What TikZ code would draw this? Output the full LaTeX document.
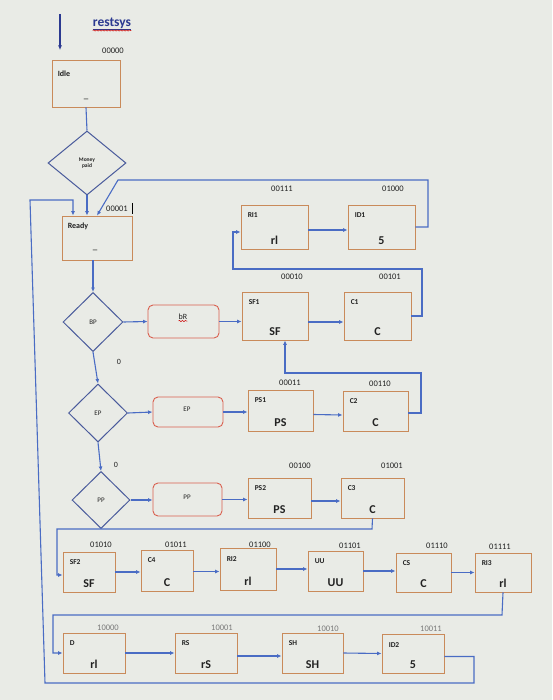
\documentclass[tikz,border=0pt]{standalone}
\usepackage{fontspec}
\setmainfont{Carlito}
\usetikzlibrary{shapes.geometric,arrows.meta,decorations.pathmorphing}
\definecolor{bgc}{HTML}{E9EBE6}
\definecolor{boxc}{HTML}{C98A5A}
\definecolor{redc}{HTML}{D9604F}
\definecolor{linec}{HTML}{4A6CC4}
\definecolor{dmc}{HTML}{4A5B9C}
\definecolor{txtc}{HTML}{222222}
\definecolor{rsc}{HTML}{2B3990}
\newcommand\stbox[7]{%
 \node[box,minimum width=#4pt,minimum height=#5pt] (#1) at (#2,#3) {};
 \node[ttl,anchor=west] (#1t) at ([xshift=7pt,yshift=-11pt]#1.north west) {#6};
 \node[bigt,anchor=base] (#1b) at ([yshift=5pt]#1.south) {#7};}
\begin{document}
\begin{tikzpicture}[x=1pt,y=-1pt,
 box/.style={draw=boxc,line width=0.9pt,inner sep=0pt},
 rbox/.style={draw=redc,line width=0.9pt,rounded corners=5pt,inner sep=0pt,font=\fontsize{7}{8}\selectfont,text=txtc},
 dia/.style={draw=dmc,line width=1pt,diamond,inner sep=0pt,font=\fontsize{7}{8}\selectfont,text=txtc,align=center},
 ttl/.style={font=\bfseries\fontsize{7.5}{9}\selectfont,text=txtc,inner sep=0pt},
 bigt/.style={font=\bfseries\fontsize{12}{14}\selectfont,text=txtc,inner sep=0pt},
 cd/.style={font=\fontsize{8.5}{10}\selectfont,text=txtc,inner sep=0pt},
 ln/.style={draw=linec,line width=1.1pt},
 arr/.style={ln,-{Latex[length=4.5pt,width=4pt]}},
]
\fill[bgc] (0,0) rectangle (552,700);
\useasboundingbox (0,0) rectangle (552,700);

% reset
\node[font=\bfseries\fontsize{13.5}{16}\selectfont,text=rsc,inner sep=0pt] (rst) at (112,23) {restsys};
\draw[rsc,line width=0.7pt] ([yshift=-0.5pt]rst.south west) -- ([yshift=-0.5pt]rst.south east);
\draw[red!80!black,line width=0.5pt,decorate,decoration={snake,amplitude=0.6pt,segment length=3pt}] ([yshift=-2pt]rst.south west) -- ([yshift=-2pt]rst.south east);
\coordinate (rs0) at (60,14);
\coordinate (rs1) at (60,50);
\draw[arr,draw=rsc] (rs0) -- (rs1);

% Idle
\node[box,minimum width=68pt,minimum height=47pt] (Idle) at (86,83.5) {};
\node[ttl,anchor=west,font=\bfseries\fontsize{8}{9}\selectfont] (Idlet) at ([xshift=6pt,yshift=-14pt]Idle.north west) {Idle};
\node[anchor=base,inner sep=0pt,font=\fontsize{9}{10}\selectfont] (Idled) at (86,99) {\_};
\node[cd] (c0) at (113,51) {00000};

% Money paid
\node[dia,minimum width=78pt,minimum height=64pt,font=\bfseries\fontsize{5.5}{6.5}\selectfont] (MP) at (87,163) {Money\\paid};

% Ready
\node[box,minimum width=70pt,minimum height=44pt] (Ready) at (97,238) {};
\node[ttl,anchor=west,font=\bfseries\fontsize{8}{9}\selectfont] (Readyt) at ([xshift=6pt,yshift=-11pt]Ready.north west) {Ready};
\node[anchor=base,inner sep=0pt,font=\fontsize{9}{10}\selectfont] (Readyd) at (95,250) {\_};
\node[cd] (c1) at (117,209) {00001};
\coordinate (cur0) at (132,203);
\coordinate (cur1) at (132,214);
\draw[black,line width=0.5pt] (cur0) -- (cur1);

% decision diamonds
\node[dia,minimum width=60pt,minimum height=59pt] (BP) at (93,322) {BP};
\node[dia,minimum width=59pt,minimum height=58pt] (EPd) at (98,413) {EP};
\node[dia,minimum width=58pt,minimum height=57pt] (PPd) at (101,500) {PP};

% rounded boxes
\node[rbox,minimum width=71pt,minimum height=33pt] (bR) at (183.5,321.5) {};
\node[inner sep=0pt,font=\fontsize{8}{9}\selectfont,text=txtc] (bRt) at (183,317) {bR};
\draw[red!80!black,line width=0.5pt,decorate,decoration={snake,amplitude=0.6pt,segment length=3pt}] ([yshift=-1pt]bRt.south west) -- ([yshift=-1pt]bRt.south east);
\node[rbox,minimum width=70pt,minimum height=30pt] (EPb) at (188,412) {};
\node[inner sep=0pt,font=\fontsize{7}{8}\selectfont,text=txtc] (EPbt) at (187,409) {EP};
\node[rbox,minimum width=69pt,minimum height=33pt] (PPb) at (187.5,499.5) {};
\node[inner sep=0pt,font=\fontsize{7}{8}\selectfont,text=txtc] (PPbt) at (187,497) {PP};

% state boxes
\stbox{RI1}{274.5}{227}{67}{44}{RI1}{rl}
\stbox{ID1}{381.5}{227}{67}{44}{ID1}{5}
\stbox{SF1}{275}{316}{66}{48}{SF1}{SF}
\stbox{C1}{377.5}{316}{67}{48}{C1}{C}
\stbox{PS1}{280.5}{410.5}{65}{41}{PS1}{PS}
\stbox{C2}{375.5}{411}{65}{40}{C2}{C}
\stbox{PS2}{279.5}{498}{63}{40}{PS2}{PS}
\stbox{C3}{372.5}{498}{63}{40}{C3}{C}
\stbox{SF2}{89}{572}{52}{40}{SF2}{SF}
\stbox{C4}{167}{570.5}{52}{41}{C4}{C}
\stbox{RI2}{248}{569}{56}{42}{RI2}{rl}
\stbox{UU}{335.5}{571}{55}{40}{UU}{UU}
\stbox{CS}{423.5}{572.5}{55}{39}{CS}{C}
\stbox{RI3}{503}{572.5}{56}{39}{RI3}{rl}
\stbox{D}{94}{653}{62}{40}{D}{rl}
\stbox{RS}{206}{653}{62}{40}{RS}{rS}
\stbox{SH}{312.5}{653}{61}{40}{SH}{SH}
\stbox{ID2}{413}{653.5}{62}{39}{ID2}{5}

% codes
\node[cd] (cRI1) at (282,189) {00111};
\node[cd] (cID1) at (393,189) {01000};
\node[cd] (cSF1) at (292,277) {00010};
\node[cd] (cC1) at (390,277) {00101};
\node[cd] (cPS1) at (290,383) {00011};
\node[cd] (cC2) at (380,384) {00110};
\node[cd] (cPS2) at (300,466) {00100};
\node[cd] (cC3) at (392,466) {01001};
\node[cd] (cSF2) at (101,545) {01010};
\node[cd] (cC4) at (176,545) {01011};
\node[cd] (cRI2) at (260,545) {01100};
\node[cd] (cUU) at (350,546) {01101};
\node[cd] (cCS) at (437,546) {01110};
\node[cd] (cRI3) at (500,547) {01111};
\node[cd,text=txtc!60] (cD) at (108,628) {10000};
\node[cd,text=txtc!60] (cRS) at (222,628) {10001};
\node[cd,text=txtc!60] (cSH) at (328,629) {10010};
\node[cd,text=txtc!60] (cID2) at (431,629) {10011};

% zero labels
\node[cd,font=\fontsize{8}{9}\selectfont] (z1) at (119,362) {0};
\node[cd,font=\fontsize{8}{9}\selectfont] (z2) at (116,465) {0};

% connectors
\draw[ln] (Idle.south) -- (MP.north);
\draw[arr] (MP.south) -- (MP.south |- Ready.north);
\coordinate (k1) at (428,180);
\coordinate (k2) at (118,180);
\draw[arr] (ID1.east) -| (k1) -- (k2) -- (Ready.north);
\coordinate (o1) at (474,683);
\coordinate (o2) at (45,683);
\coordinate (o3) at (30,200);
\coordinate (o4) at (73,200);
\draw[arr] ([yshift=-3pt]ID2.east) -| (o1) -- (o2) -- (o3) -- (o4) -- (o4 |- Ready.north);
\draw[arr] (BP.north |- Ready.south) -- (BP.north);
\draw[arr] (BP.east) -- (bR.west);
\draw[arr] (bR.east) -- (bR.east -| SF1.west);
\draw[arr] ([yshift=-6pt]SF1.east) -- ([yshift=-6pt]C1.west);
\coordinate (l1) at (422,269);
\coordinate (l2) at (233,269);
\coordinate (l3) at (233,232);
\draw[arr] (C1.east) -| (l1) -- (l2) -- (l3) -- (l3 -| RI1.west);
\draw[arr] ([yshift=-3pt]RI1.east) -- ([yshift=-3pt]ID1.west);
\draw[arr] (BP.south) -- (EPd.north);
\draw[arr] (EPd.east) -- (EPb.west);
\draw[arr] (EPb.east) -- (EPb.east -| PS1.west);
\draw[arr] ([yshift=-4pt]PS1.east) -- ([yshift=-4pt]C2.west);
\coordinate (m1) at (421,373);
\coordinate (m2) at (285,373);
\draw[arr] ([yshift=-2pt]C2.east) -| (m1) -- (m2) -- (m2 |- SF1.south);
\draw[arr] (EPd.south) -- (PPd.north);
\draw[arr] (PPd.east) -- (PPd.east -| PPb.west);
\draw[arr] (PPb.east) -- (PPb.east -| PS2.west);
\draw[arr] ([yshift=-3pt]PS2.east) -- ([yshift=-3pt]C3.west);
\coordinate (n1) at (372,529);
\coordinate (n2) at (57,529);
\coordinate (n3) at (57,575);
\draw[arr] (C3.south) -- (n1) -- (n2) -- (n3) -- (n3 -| SF2.west);
\draw[arr] (SF2.east) -- (SF2.east -| C4.west);
\draw[arr] ([yshift=-1pt]C4.east) -- ([yshift=-1pt]C4.east -| RI2.west);
\draw[arr] (RI2.east) -- (RI2.east -| UU.west);
\draw[arr] (UU.east) -- (UU.east -| CS.west);
\draw[arr] (CS.east) -- (CS.east -| RI3.west);
\coordinate (p1) at (502,615);
\coordinate (p2) at (53,615);
\coordinate (p3) at (53,653);
\draw[arr] (RI3.south) -- (p1) -- (p2) -- (p3) -- (D.west);
\draw[arr] (D.east) -- (RS.west);
\draw[arr] ([yshift=-3pt]RS.east) -- ([yshift=-3pt]SH.west);
\draw[arr] (SH.east) -- (ID2.west);
\end{tikzpicture}
\end{document}
